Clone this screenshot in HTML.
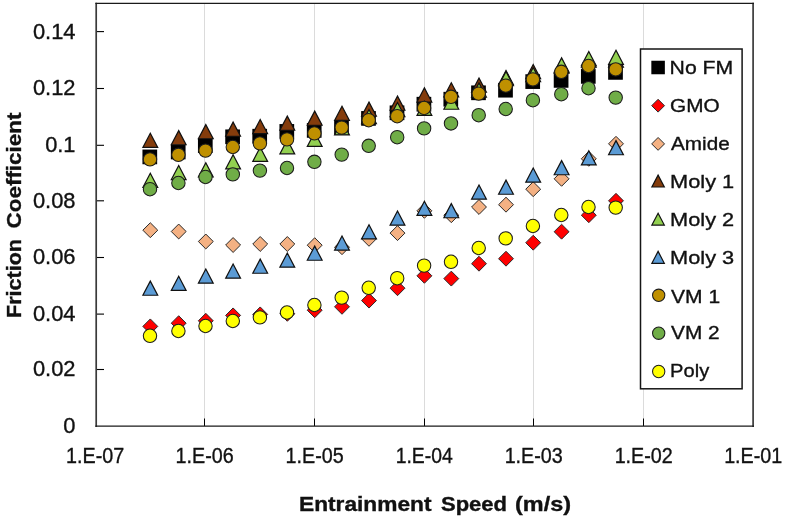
<!DOCTYPE html>
<html lang="en"><head><meta charset="utf-8"><title>Friction Coefficient vs Entrainment Speed</title>
<style>html,body{margin:0;padding:0;background:#fff}body{width:785px;height:520px;overflow:hidden}svg{display:block}text{font-family:"Liberation Sans",Arial,sans-serif;fill:#111;stroke:#111;stroke-width:.35px}</style>
</head><body>
<svg width="785" height="520" viewBox="0 0 785 520">
<rect x="0" y="0" width="785" height="520" fill="#ffffff"/>
<g fill="#dbdbdb">
<rect x="204" y="4" width="1" height="422"/>
<rect x="314" y="4" width="1" height="422"/>
<rect x="424" y="4" width="1" height="422"/>
<rect x="533" y="4" width="1" height="422"/>
<rect x="643" y="4" width="1" height="422"/>
</g>
<g fill="#000">
<rect x="204" y="418.5" width="1" height="7.5"/>
<rect x="314" y="418.5" width="1" height="7.5"/>
<rect x="424" y="418.5" width="1" height="7.5"/>
<rect x="533" y="418.5" width="1" height="7.5"/>
<rect x="643" y="418.5" width="1" height="7.5"/>
</g>
<g stroke="#000" stroke-width="1.1">
<line x1="96.2" y1="31.6" x2="104" y2="31.6"/>
<line x1="96.2" y1="88.5" x2="104" y2="88.5"/>
<line x1="96.2" y1="145.3" x2="104" y2="145.3"/>
<line x1="96.2" y1="200.8" x2="104" y2="200.8"/>
<line x1="96.2" y1="257.5" x2="104" y2="257.5"/>
<line x1="96.2" y1="314.1" x2="104" y2="314.1"/>
<line x1="96.2" y1="369.5" x2="104" y2="369.5"/>
</g>
<g stroke="#3a3a3a" fill="none">
<line x1="96.2" y1="2.7" x2="96.2" y2="426.9" stroke-width="1.7"/>
<line x1="753.1" y1="2.7" x2="753.1" y2="426.9" stroke-width="1.7"/>
<line x1="95.4" y1="3.4" x2="754" y2="3.4" stroke-width="1.25" stroke="#1a1a1a"/>
<line x1="95.4" y1="426.05" x2="754" y2="426.05" stroke-width="1.25" stroke="#1a1a1a"/>
</g>
<g id="s-nofm">
<rect x="142.45" y="149.55" width="14.70" height="14.70" fill="#000000"/>
<rect x="170.85" y="144.65" width="14.70" height="14.70" fill="#000000"/>
<rect x="197.95" y="138.25" width="14.70" height="14.70" fill="#000000"/>
<rect x="225.25" y="129.45" width="14.70" height="14.70" fill="#000000"/>
<rect x="252.35" y="128.85" width="14.70" height="14.70" fill="#000000"/>
<rect x="279.45" y="124.05" width="14.70" height="14.70" fill="#000000"/>
<rect x="306.85" y="123.05" width="14.70" height="14.70" fill="#000000"/>
<rect x="334.15" y="120.05" width="14.70" height="14.70" fill="#000000"/>
<rect x="361.15" y="111.05" width="14.70" height="14.70" fill="#000000"/>
<rect x="389.65" y="105.45" width="14.70" height="14.70" fill="#000000"/>
<rect x="416.55" y="96.85" width="14.70" height="14.70" fill="#000000"/>
<rect x="443.45" y="91.85" width="14.70" height="14.70" fill="#000000"/>
<rect x="471.15" y="85.45" width="14.70" height="14.70" fill="#000000"/>
<rect x="498.15" y="82.85" width="14.70" height="14.70" fill="#000000"/>
<rect x="525.35" y="74.25" width="14.70" height="14.70" fill="#000000"/>
<rect x="553.75" y="73.05" width="14.70" height="14.70" fill="#000000"/>
<rect x="580.95" y="69.05" width="14.70" height="14.70" fill="#000000"/>
<rect x="608.15" y="65.05" width="14.70" height="14.70" fill="#000000"/>
</g>
<g id="s-gmo">
<path d="M150.30 318.95L157.75 326.40L150.30 333.85L142.85 326.40Z" fill="#FF0000" stroke="#2a2a2a" stroke-width="1"/>
<path d="M178.70 315.75L186.15 323.20L178.70 330.65L171.25 323.20Z" fill="#FF0000" stroke="#2a2a2a" stroke-width="1"/>
<path d="M205.80 313.35L213.25 320.80L205.80 328.25L198.35 320.80Z" fill="#FF0000" stroke="#2a2a2a" stroke-width="1"/>
<path d="M233.10 307.95L240.55 315.40L233.10 322.85L225.65 315.40Z" fill="#FF0000" stroke="#2a2a2a" stroke-width="1"/>
<path d="M260.20 306.95L267.65 314.40L260.20 321.85L252.75 314.40Z" fill="#FF0000" stroke="#2a2a2a" stroke-width="1"/>
<path d="M287.30 306.35L294.75 313.80L287.30 321.25L279.85 313.80Z" fill="#FF0000" stroke="#2a2a2a" stroke-width="1"/>
<path d="M314.70 302.75L322.15 310.20L314.70 317.65L307.25 310.20Z" fill="#FF0000" stroke="#2a2a2a" stroke-width="1"/>
<path d="M342.00 299.35L349.45 306.80L342.00 314.25L334.55 306.80Z" fill="#FF0000" stroke="#2a2a2a" stroke-width="1"/>
<path d="M369.00 293.15L376.45 300.60L369.00 308.05L361.55 300.60Z" fill="#FF0000" stroke="#2a2a2a" stroke-width="1"/>
<path d="M397.50 280.75L404.95 288.20L397.50 295.65L390.05 288.20Z" fill="#FF0000" stroke="#2a2a2a" stroke-width="1"/>
<path d="M424.40 268.35L431.85 275.80L424.40 283.25L416.95 275.80Z" fill="#FF0000" stroke="#2a2a2a" stroke-width="1"/>
<path d="M451.30 271.15L458.75 278.60L451.30 286.05L443.85 278.60Z" fill="#FF0000" stroke="#2a2a2a" stroke-width="1"/>
<path d="M479.00 256.25L486.45 263.70L479.00 271.15L471.55 263.70Z" fill="#FF0000" stroke="#2a2a2a" stroke-width="1"/>
<path d="M506.00 251.25L513.45 258.70L506.00 266.15L498.55 258.70Z" fill="#FF0000" stroke="#2a2a2a" stroke-width="1"/>
<path d="M533.20 235.25L540.65 242.70L533.20 250.15L525.75 242.70Z" fill="#FF0000" stroke="#2a2a2a" stroke-width="1"/>
<path d="M561.60 224.25L569.05 231.70L561.60 239.15L554.15 231.70Z" fill="#FF0000" stroke="#2a2a2a" stroke-width="1"/>
<path d="M588.80 207.75L596.25 215.20L588.80 222.65L581.35 215.20Z" fill="#FF0000" stroke="#2a2a2a" stroke-width="1"/>
<path d="M616.00 193.35L623.45 200.80L616.00 208.25L608.55 200.80Z" fill="#FF0000" stroke="#2a2a2a" stroke-width="1"/>
</g>
<g id="s-amide">
<path d="M150.30 222.75L157.75 230.20L150.30 237.65L142.85 230.20Z" fill="#F4B183" stroke="#2a2a2a" stroke-width="1"/>
<path d="M178.70 224.05L186.15 231.50L178.70 238.95L171.25 231.50Z" fill="#F4B183" stroke="#2a2a2a" stroke-width="1"/>
<path d="M205.80 234.05L213.25 241.50L205.80 248.95L198.35 241.50Z" fill="#F4B183" stroke="#2a2a2a" stroke-width="1"/>
<path d="M233.10 237.55L240.55 245.00L233.10 252.45L225.65 245.00Z" fill="#F4B183" stroke="#2a2a2a" stroke-width="1"/>
<path d="M260.20 236.55L267.65 244.00L260.20 251.45L252.75 244.00Z" fill="#F4B183" stroke="#2a2a2a" stroke-width="1"/>
<path d="M287.30 236.55L294.75 244.00L287.30 251.45L279.85 244.00Z" fill="#F4B183" stroke="#2a2a2a" stroke-width="1"/>
<path d="M314.70 237.75L322.15 245.20L314.70 252.65L307.25 245.20Z" fill="#F4B183" stroke="#2a2a2a" stroke-width="1"/>
<path d="M342.00 239.75L349.45 247.20L342.00 254.65L334.55 247.20Z" fill="#F4B183" stroke="#2a2a2a" stroke-width="1"/>
<path d="M369.00 231.35L376.45 238.80L369.00 246.25L361.55 238.80Z" fill="#F4B183" stroke="#2a2a2a" stroke-width="1"/>
<path d="M397.50 225.65L404.95 233.10L397.50 240.55L390.05 233.10Z" fill="#F4B183" stroke="#2a2a2a" stroke-width="1"/>
<path d="M424.40 203.35L431.85 210.80L424.40 218.25L416.95 210.80Z" fill="#F4B183" stroke="#2a2a2a" stroke-width="1"/>
<path d="M451.30 207.75L458.75 215.20L451.30 222.65L443.85 215.20Z" fill="#F4B183" stroke="#2a2a2a" stroke-width="1"/>
<path d="M479.00 199.55L486.45 207.00L479.00 214.45L471.55 207.00Z" fill="#F4B183" stroke="#2a2a2a" stroke-width="1"/>
<path d="M506.00 197.25L513.45 204.70L506.00 212.15L498.55 204.70Z" fill="#F4B183" stroke="#2a2a2a" stroke-width="1"/>
<path d="M533.20 181.75L540.65 189.20L533.20 196.65L525.75 189.20Z" fill="#F4B183" stroke="#2a2a2a" stroke-width="1"/>
<path d="M561.60 171.35L569.05 178.80L561.60 186.25L554.15 178.80Z" fill="#F4B183" stroke="#2a2a2a" stroke-width="1"/>
<path d="M588.80 151.35L596.25 158.80L588.80 166.25L581.35 158.80Z" fill="#F4B183" stroke="#2a2a2a" stroke-width="1"/>
<path d="M616.00 136.35L623.45 143.80L616.00 151.25L608.55 143.80Z" fill="#F4B183" stroke="#2a2a2a" stroke-width="1"/>
</g>
<g id="s-moly1">
<path d="M150.30 133.30L157.70 147.45L142.90 147.45Z" fill="#843C0C" stroke="#111" stroke-width="1.2"/>
<path d="M178.70 130.60L186.10 144.75L171.30 144.75Z" fill="#843C0C" stroke="#111" stroke-width="1.2"/>
<path d="M205.80 124.60L213.20 138.75L198.40 138.75Z" fill="#843C0C" stroke="#111" stroke-width="1.2"/>
<path d="M233.10 122.10L240.50 136.25L225.70 136.25Z" fill="#843C0C" stroke="#111" stroke-width="1.2"/>
<path d="M260.20 119.50L267.60 133.65L252.80 133.65Z" fill="#843C0C" stroke="#111" stroke-width="1.2"/>
<path d="M287.30 116.10L294.70 130.25L279.90 130.25Z" fill="#843C0C" stroke="#111" stroke-width="1.2"/>
<path d="M314.70 111.10L322.10 125.25L307.30 125.25Z" fill="#843C0C" stroke="#111" stroke-width="1.2"/>
<path d="M342.00 106.30L349.40 120.45L334.60 120.45Z" fill="#843C0C" stroke="#111" stroke-width="1.2"/>
<path d="M369.00 102.10L376.40 116.25L361.60 116.25Z" fill="#843C0C" stroke="#111" stroke-width="1.2"/>
<path d="M397.50 96.10L404.90 110.25L390.10 110.25Z" fill="#843C0C" stroke="#111" stroke-width="1.2"/>
<path d="M424.40 87.90L431.80 102.05L417.00 102.05Z" fill="#843C0C" stroke="#111" stroke-width="1.2"/>
<path d="M451.30 82.70L458.70 96.85L443.90 96.85Z" fill="#843C0C" stroke="#111" stroke-width="1.2"/>
<path d="M479.00 78.10L486.40 92.25L471.60 92.25Z" fill="#843C0C" stroke="#111" stroke-width="1.2"/>
<path d="M506.00 70.50L513.40 84.65L498.60 84.65Z" fill="#843C0C" stroke="#111" stroke-width="1.2"/>
<path d="M533.20 64.50L540.60 78.65L525.80 78.65Z" fill="#843C0C" stroke="#111" stroke-width="1.2"/>
<path d="M561.60 59.10L569.00 73.25L554.20 73.25Z" fill="#843C0C" stroke="#111" stroke-width="1.2"/>
<path d="M588.80 53.10L596.20 67.25L581.40 67.25Z" fill="#843C0C" stroke="#111" stroke-width="1.2"/>
<path d="M616.00 53.10L623.40 67.25L608.60 67.25Z" fill="#843C0C" stroke="#111" stroke-width="1.2"/>
</g>
<g id="s-moly2">
<path d="M150.30 173.30L157.70 187.45L142.90 187.45Z" fill="#92D050" stroke="#111" stroke-width="1.2"/>
<path d="M178.70 165.50L186.10 179.65L171.30 179.65Z" fill="#92D050" stroke="#111" stroke-width="1.2"/>
<path d="M205.80 162.70L213.20 176.85L198.40 176.85Z" fill="#92D050" stroke="#111" stroke-width="1.2"/>
<path d="M233.10 154.70L240.50 168.85L225.70 168.85Z" fill="#92D050" stroke="#111" stroke-width="1.2"/>
<path d="M260.20 147.30L267.60 161.45L252.80 161.45Z" fill="#92D050" stroke="#111" stroke-width="1.2"/>
<path d="M287.30 139.70L294.70 153.85L279.90 153.85Z" fill="#92D050" stroke="#111" stroke-width="1.2"/>
<path d="M314.70 132.30L322.10 146.45L307.30 146.45Z" fill="#92D050" stroke="#111" stroke-width="1.2"/>
<path d="M342.00 120.70L349.40 134.85L334.60 134.85Z" fill="#92D050" stroke="#111" stroke-width="1.2"/>
<path d="M369.00 109.50L376.40 123.65L361.60 123.65Z" fill="#92D050" stroke="#111" stroke-width="1.2"/>
<path d="M397.50 102.50L404.90 116.65L390.10 116.65Z" fill="#92D050" stroke="#111" stroke-width="1.2"/>
<path d="M424.40 101.30L431.80 115.45L417.00 115.45Z" fill="#92D050" stroke="#111" stroke-width="1.2"/>
<path d="M451.30 95.10L458.70 109.25L443.90 109.25Z" fill="#92D050" stroke="#111" stroke-width="1.2"/>
<path d="M479.00 82.90L486.40 97.05L471.60 97.05Z" fill="#92D050" stroke="#111" stroke-width="1.2"/>
<path d="M506.00 71.50L513.40 85.65L498.60 85.65Z" fill="#92D050" stroke="#111" stroke-width="1.2"/>
<path d="M533.20 67.50L540.60 81.65L525.80 81.65Z" fill="#92D050" stroke="#111" stroke-width="1.2"/>
<path d="M561.60 57.90L569.00 72.05L554.20 72.05Z" fill="#92D050" stroke="#111" stroke-width="1.2"/>
<path d="M588.80 51.50L596.20 65.65L581.40 65.65Z" fill="#92D050" stroke="#111" stroke-width="1.2"/>
<path d="M616.00 50.30L623.40 64.45L608.60 64.45Z" fill="#92D050" stroke="#111" stroke-width="1.2"/>
</g>
<g id="s-moly3">
<path d="M150.30 281.10L157.70 295.25L142.90 295.25Z" fill="#5B9BD5" stroke="#111" stroke-width="1.2"/>
<path d="M178.70 276.20L186.10 290.35L171.30 290.35Z" fill="#5B9BD5" stroke="#111" stroke-width="1.2"/>
<path d="M205.80 269.00L213.20 283.15L198.40 283.15Z" fill="#5B9BD5" stroke="#111" stroke-width="1.2"/>
<path d="M233.10 264.00L240.50 278.15L225.70 278.15Z" fill="#5B9BD5" stroke="#111" stroke-width="1.2"/>
<path d="M260.20 259.10L267.60 273.25L252.80 273.25Z" fill="#5B9BD5" stroke="#111" stroke-width="1.2"/>
<path d="M287.30 253.00L294.70 267.15L279.90 267.15Z" fill="#5B9BD5" stroke="#111" stroke-width="1.2"/>
<path d="M314.70 246.10L322.10 260.25L307.30 260.25Z" fill="#5B9BD5" stroke="#111" stroke-width="1.2"/>
<path d="M342.00 236.00L349.40 250.15L334.60 250.15Z" fill="#5B9BD5" stroke="#111" stroke-width="1.2"/>
<path d="M369.00 224.80L376.40 238.95L361.60 238.95Z" fill="#5B9BD5" stroke="#111" stroke-width="1.2"/>
<path d="M397.50 211.00L404.90 225.15L390.10 225.15Z" fill="#5B9BD5" stroke="#111" stroke-width="1.2"/>
<path d="M424.40 201.20L431.80 215.35L417.00 215.35Z" fill="#5B9BD5" stroke="#111" stroke-width="1.2"/>
<path d="M451.30 203.60L458.70 217.75L443.90 217.75Z" fill="#5B9BD5" stroke="#111" stroke-width="1.2"/>
<path d="M479.00 185.00L486.40 199.15L471.60 199.15Z" fill="#5B9BD5" stroke="#111" stroke-width="1.2"/>
<path d="M506.00 180.10L513.40 194.25L498.60 194.25Z" fill="#5B9BD5" stroke="#111" stroke-width="1.2"/>
<path d="M533.20 168.00L540.60 182.15L525.80 182.15Z" fill="#5B9BD5" stroke="#111" stroke-width="1.2"/>
<path d="M561.60 160.60L569.00 174.75L554.20 174.75Z" fill="#5B9BD5" stroke="#111" stroke-width="1.2"/>
<path d="M588.80 150.80L596.20 164.95L581.40 164.95Z" fill="#5B9BD5" stroke="#111" stroke-width="1.2"/>
<path d="M616.00 140.60L623.40 154.75L608.60 154.75Z" fill="#5B9BD5" stroke="#111" stroke-width="1.2"/>
</g>
<g id="s-vm1">
<circle cx="150.00" cy="159.40" r="6.70" fill="#BF9000" stroke="#1c1c1c" stroke-width="1.05"/>
<circle cx="178.40" cy="154.80" r="6.70" fill="#BF9000" stroke="#1c1c1c" stroke-width="1.05"/>
<circle cx="205.50" cy="150.60" r="6.70" fill="#BF9000" stroke="#1c1c1c" stroke-width="1.05"/>
<circle cx="232.80" cy="147.00" r="6.70" fill="#BF9000" stroke="#1c1c1c" stroke-width="1.05"/>
<circle cx="259.90" cy="143.40" r="6.70" fill="#BF9000" stroke="#1c1c1c" stroke-width="1.05"/>
<circle cx="287.00" cy="139.40" r="6.70" fill="#BF9000" stroke="#1c1c1c" stroke-width="1.05"/>
<circle cx="314.40" cy="133.40" r="6.70" fill="#BF9000" stroke="#1c1c1c" stroke-width="1.05"/>
<circle cx="341.70" cy="127.60" r="6.70" fill="#BF9000" stroke="#1c1c1c" stroke-width="1.05"/>
<circle cx="368.70" cy="120.20" r="6.70" fill="#BF9000" stroke="#1c1c1c" stroke-width="1.05"/>
<circle cx="397.20" cy="116.20" r="6.70" fill="#BF9000" stroke="#1c1c1c" stroke-width="1.05"/>
<circle cx="424.10" cy="108.00" r="6.70" fill="#BF9000" stroke="#1c1c1c" stroke-width="1.05"/>
<circle cx="451.00" cy="96.80" r="6.70" fill="#BF9000" stroke="#1c1c1c" stroke-width="1.05"/>
<circle cx="478.70" cy="93.60" r="6.70" fill="#BF9000" stroke="#1c1c1c" stroke-width="1.05"/>
<circle cx="505.70" cy="85.60" r="6.70" fill="#BF9000" stroke="#1c1c1c" stroke-width="1.05"/>
<circle cx="532.90" cy="79.40" r="6.70" fill="#BF9000" stroke="#1c1c1c" stroke-width="1.05"/>
<circle cx="561.30" cy="71.80" r="6.70" fill="#BF9000" stroke="#1c1c1c" stroke-width="1.05"/>
<circle cx="588.50" cy="66.00" r="6.70" fill="#BF9000" stroke="#1c1c1c" stroke-width="1.05"/>
<circle cx="615.70" cy="69.40" r="6.70" fill="#BF9000" stroke="#1c1c1c" stroke-width="1.05"/>
</g>
<g id="s-vm2">
<circle cx="150.00" cy="189.20" r="6.70" fill="#70AD47" stroke="#1c1c1c" stroke-width="1.05"/>
<circle cx="178.40" cy="183.00" r="6.70" fill="#70AD47" stroke="#1c1c1c" stroke-width="1.05"/>
<circle cx="205.50" cy="177.00" r="6.70" fill="#70AD47" stroke="#1c1c1c" stroke-width="1.05"/>
<circle cx="232.80" cy="174.40" r="6.70" fill="#70AD47" stroke="#1c1c1c" stroke-width="1.05"/>
<circle cx="259.90" cy="170.60" r="6.70" fill="#70AD47" stroke="#1c1c1c" stroke-width="1.05"/>
<circle cx="287.00" cy="168.00" r="6.70" fill="#70AD47" stroke="#1c1c1c" stroke-width="1.05"/>
<circle cx="314.40" cy="161.80" r="6.70" fill="#70AD47" stroke="#1c1c1c" stroke-width="1.05"/>
<circle cx="341.70" cy="154.60" r="6.70" fill="#70AD47" stroke="#1c1c1c" stroke-width="1.05"/>
<circle cx="368.70" cy="145.80" r="6.70" fill="#70AD47" stroke="#1c1c1c" stroke-width="1.05"/>
<circle cx="397.20" cy="137.20" r="6.70" fill="#70AD47" stroke="#1c1c1c" stroke-width="1.05"/>
<circle cx="424.10" cy="128.40" r="6.70" fill="#70AD47" stroke="#1c1c1c" stroke-width="1.05"/>
<circle cx="451.00" cy="123.40" r="6.70" fill="#70AD47" stroke="#1c1c1c" stroke-width="1.05"/>
<circle cx="478.70" cy="115.20" r="6.70" fill="#70AD47" stroke="#1c1c1c" stroke-width="1.05"/>
<circle cx="505.70" cy="109.00" r="6.70" fill="#70AD47" stroke="#1c1c1c" stroke-width="1.05"/>
<circle cx="532.90" cy="100.20" r="6.70" fill="#70AD47" stroke="#1c1c1c" stroke-width="1.05"/>
<circle cx="561.30" cy="94.20" r="6.70" fill="#70AD47" stroke="#1c1c1c" stroke-width="1.05"/>
<circle cx="588.50" cy="88.20" r="6.70" fill="#70AD47" stroke="#1c1c1c" stroke-width="1.05"/>
<circle cx="615.70" cy="97.60" r="6.70" fill="#70AD47" stroke="#1c1c1c" stroke-width="1.05"/>
</g>
<g id="s-poly">
<circle cx="150.00" cy="335.80" r="6.70" fill="#FFFF00" stroke="#1c1c1c" stroke-width="1.05"/>
<circle cx="178.40" cy="331.00" r="6.70" fill="#FFFF00" stroke="#1c1c1c" stroke-width="1.05"/>
<circle cx="205.50" cy="326.00" r="6.70" fill="#FFFF00" stroke="#1c1c1c" stroke-width="1.05"/>
<circle cx="232.80" cy="321.00" r="6.70" fill="#FFFF00" stroke="#1c1c1c" stroke-width="1.05"/>
<circle cx="259.90" cy="317.40" r="6.70" fill="#FFFF00" stroke="#1c1c1c" stroke-width="1.05"/>
<circle cx="287.00" cy="312.50" r="6.70" fill="#FFFF00" stroke="#1c1c1c" stroke-width="1.05"/>
<circle cx="314.40" cy="305.00" r="6.70" fill="#FFFF00" stroke="#1c1c1c" stroke-width="1.05"/>
<circle cx="341.70" cy="297.60" r="6.70" fill="#FFFF00" stroke="#1c1c1c" stroke-width="1.05"/>
<circle cx="368.70" cy="287.80" r="6.70" fill="#FFFF00" stroke="#1c1c1c" stroke-width="1.05"/>
<circle cx="397.20" cy="278.20" r="6.70" fill="#FFFF00" stroke="#1c1c1c" stroke-width="1.05"/>
<circle cx="424.10" cy="265.60" r="6.70" fill="#FFFF00" stroke="#1c1c1c" stroke-width="1.05"/>
<circle cx="451.00" cy="261.80" r="6.70" fill="#FFFF00" stroke="#1c1c1c" stroke-width="1.05"/>
<circle cx="478.70" cy="248.00" r="6.70" fill="#FFFF00" stroke="#1c1c1c" stroke-width="1.05"/>
<circle cx="505.70" cy="238.40" r="6.70" fill="#FFFF00" stroke="#1c1c1c" stroke-width="1.05"/>
<circle cx="532.90" cy="226.00" r="6.70" fill="#FFFF00" stroke="#1c1c1c" stroke-width="1.05"/>
<circle cx="561.30" cy="215.00" r="6.70" fill="#FFFF00" stroke="#1c1c1c" stroke-width="1.05"/>
<circle cx="588.50" cy="207.00" r="6.70" fill="#FFFF00" stroke="#1c1c1c" stroke-width="1.05"/>
<circle cx="615.70" cy="207.60" r="6.70" fill="#FFFF00" stroke="#1c1c1c" stroke-width="1.05"/>
</g>
<rect x="640.5" y="49" width="101.6" height="339.8" fill="#fff" stroke="#151515" stroke-width="1.5"/>
<rect x="651.34" y="60.74" width="13.52" height="13.52" fill="#000000"/>
<path d="M658.10 99.29L664.51 105.70L658.10 112.11L651.69 105.70Z" fill="#FF0000" stroke="#2a2a2a" stroke-width="1"/>
<path d="M658.10 137.49L664.51 143.90L658.10 150.31L651.69 143.90Z" fill="#F4B183" stroke="#2a2a2a" stroke-width="1"/>
<path d="M658.10 175.10L664.32 186.99L651.88 186.99Z" fill="#843C0C" stroke="#111" stroke-width="1.2"/>
<path d="M658.10 213.20L664.32 225.09L651.88 225.09Z" fill="#92D050" stroke="#111" stroke-width="1.2"/>
<path d="M658.10 251.40L664.32 263.29L651.88 263.29Z" fill="#5B9BD5" stroke="#111" stroke-width="1.2"/>
<circle cx="658.70" cy="295.30" r="6.16" fill="#BF9000" stroke="#1c1c1c" stroke-width="1.05"/>
<circle cx="658.70" cy="333.20" r="6.16" fill="#70AD47" stroke="#1c1c1c" stroke-width="1.05"/>
<circle cx="658.70" cy="371.50" r="6.16" fill="#FFFF00" stroke="#1c1c1c" stroke-width="1.05"/>
<text class="yl" x="32.9" y="38.5" font-size="21.2" textLength="42.6" lengthAdjust="spacingAndGlyphs">0.14</text>
<text class="yl" x="32.9" y="95.4" font-size="21.2" textLength="42.6" lengthAdjust="spacingAndGlyphs">0.12</text>
<text class="yl" x="45.2" y="152.2" font-size="21.2" textLength="30.3" lengthAdjust="spacingAndGlyphs">0.1</text>
<text class="yl" x="32.9" y="207.7" font-size="21.2" textLength="42.6" lengthAdjust="spacingAndGlyphs">0.08</text>
<text class="yl" x="32.9" y="264.4" font-size="21.2" textLength="42.6" lengthAdjust="spacingAndGlyphs">0.06</text>
<text class="yl" x="32.9" y="321.0" font-size="21.2" textLength="42.6" lengthAdjust="spacingAndGlyphs">0.04</text>
<text class="yl" x="32.9" y="376.4" font-size="21.2" textLength="42.6" lengthAdjust="spacingAndGlyphs">0.02</text>
<text class="yl" x="63.3" y="432.9" font-size="21.2" textLength="12.2" lengthAdjust="spacingAndGlyphs">0</text>
<text x="669.58" y="74.1" font-size="19.0" textLength="63.67" lengthAdjust="spacingAndGlyphs">No FM</text>
<text x="670.11" y="111.7" font-size="19.0" textLength="49.61" lengthAdjust="spacingAndGlyphs">GMO</text>
<text x="671.08" y="150.4" font-size="19.0" textLength="58.61" lengthAdjust="spacingAndGlyphs">Amide</text>
<text x="670.09" y="187.5" font-size="19.0" textLength="64.14" lengthAdjust="spacingAndGlyphs">Moly 1</text>
<text x="670.09" y="225.7" font-size="19.0" textLength="64.12" lengthAdjust="spacingAndGlyphs">Moly 2</text>
<text x="670.09" y="263.8" font-size="19.0" textLength="64.12" lengthAdjust="spacingAndGlyphs">Moly 3</text>
<text x="671.09" y="302.7" font-size="19.0" textLength="49.10" lengthAdjust="spacingAndGlyphs">VM 1</text>
<text x="671.11" y="339.2" font-size="19.0" textLength="48.59" lengthAdjust="spacingAndGlyphs">VM 2</text>
<text x="670.10" y="376.8" font-size="19.0" textLength="39.10" lengthAdjust="spacingAndGlyphs">Poly</text>
<text x="66.12" y="462.7" font-size="21.2" textLength="58.17" lengthAdjust="spacingAndGlyphs">1.E-07</text>
<text x="175.61" y="462.7" font-size="21.2" textLength="58.16" lengthAdjust="spacingAndGlyphs">1.E-06</text>
<text x="285.62" y="462.7" font-size="21.2" textLength="58.19" lengthAdjust="spacingAndGlyphs">1.E-05</text>
<text x="395.66" y="462.7" font-size="21.2" textLength="57.14" lengthAdjust="spacingAndGlyphs">1.E-04</text>
<text x="504.63" y="462.7" font-size="21.2" textLength="58.16" lengthAdjust="spacingAndGlyphs">1.E-03</text>
<text x="614.64" y="462.7" font-size="21.2" textLength="58.16" lengthAdjust="spacingAndGlyphs">1.E-02</text>
<text x="724.13" y="462.7" font-size="21.2" textLength="58.16" lengthAdjust="spacingAndGlyphs">1.E-01</text>
<text x="299.00" y="511.4" font-size="19.8" font-weight="bold" stroke="none" textLength="132.50" lengthAdjust="spacingAndGlyphs">Entrainment</text>
<text x="440.98" y="511.4" font-size="19.8" font-weight="bold" stroke="none" textLength="66.02" lengthAdjust="spacingAndGlyphs">Speed</text>
<text x="515.01" y="511.4" font-size="19.8" font-weight="bold" stroke="none" textLength="56.00" lengthAdjust="spacingAndGlyphs">(m/s)</text>
<text transform="translate(21.4 318.01) rotate(-90)" x="0" y="0" font-size="19.6" font-weight="bold" stroke="none" textLength="79.02" lengthAdjust="spacingAndGlyphs">Friction</text>
<text transform="translate(21.4 228.49) rotate(-90)" x="0" y="0" font-size="19.6" font-weight="bold" stroke="none" textLength="115.99" lengthAdjust="spacingAndGlyphs">Coefficient</text>
</svg>
</body></html>
